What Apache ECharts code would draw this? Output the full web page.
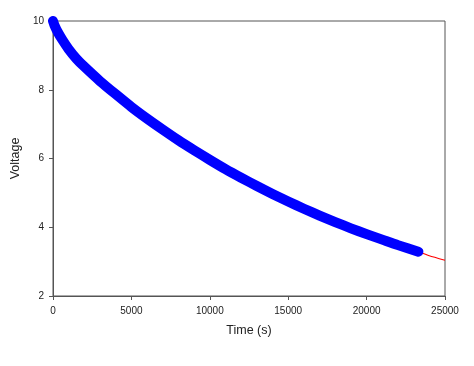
<!DOCTYPE html>
<html>
<head>
<meta charset="utf-8">
<script src="https://cdn.jsdelivr.net/npm/echarts@6/dist/echarts.min.js"></script>
<style>
  html, body { margin: 0; padding: 0; background: #fff; }
  #chart { width: 474px; height: 366px; }
</style>
</head>
<body>
<div id="chart"></div>
<script>
// discharge curve
const timeSec = [0, 100, 300, 600, 1000, 1500, 2000, 3000, 4000, 5000, 6000, 7000, 8000, 9000, 10000,
  11000, 12000, 13000, 14000, 15000, 16000, 17000, 18000, 19000, 20000, 21000, 22000, 23300];
const voltage = [10, 9.87, 9.68, 9.45, 9.18, 8.9, 8.67, 8.25, 7.87, 7.5, 7.16, 6.84, 6.53, 6.24, 5.96,
  5.69, 5.44, 5.2, 4.97, 4.75, 4.54, 4.34, 4.15, 3.97, 3.8, 3.64, 3.48, 3.29];

// red fit line continues past the last measurement
const fitTime = [24000, 25000];
const fitVolt = [3.17, 3.04];

const xTicks = { min: 0, max: 25000, interval: 5000 };
const yTicks = { min: 2, max: 10, interval: 2 };

const chart = echarts.init(document.getElementById('chart'));

const pairs = (xs, ys) => xs.map((x, i) => [x, ys[i]]);
const axisColor = '#555';
const font = 'Liberation Sans, Arial, sans-serif';

chart.setOption({
  animation: false,
  grid: {
    left: 53, right: 29, top: 21, bottom: 70,
    show: true, borderColor: axisColor, borderWidth: 1
  },
  xAxis: {
    type: 'value',
    min: xTicks.min, max: xTicks.max, interval: xTicks.interval,
    name: 'Time (s)', nameLocation: 'middle', nameGap: 28,
    nameTextStyle: { fontFamily: font, fontSize: 12.5, color: '#222' },
    axisLine: { show: true, lineStyle: { color: axisColor } },
    axisTick: { show: true, inside: false, length: 4, lineStyle: { color: axisColor } },
    axisLabel: { fontFamily: font, fontSize: 10, color: '#222', margin: 10, formatter: v => String(v) },
    splitLine: { show: false }
  },
  yAxis: {
    type: 'value',
    min: yTicks.min, max: yTicks.max, interval: yTicks.interval,
    name: 'Voltage', nameLocation: 'middle', nameGap: 27,
    nameTextStyle: { fontFamily: font, fontSize: 12.5, color: '#222' },
    axisLine: { show: true, lineStyle: { color: axisColor } },
    axisTick: { show: true, inside: false, length: 4, lineStyle: { color: axisColor } },
    axisLabel: { fontFamily: font, fontSize: 10, color: '#222', margin: 9 },
    splitLine: { show: false }
  },
  series: [
    {
      name: 'fit',
      type: 'line',
      data: pairs(timeSec.concat(fitTime), voltage.concat(fitVolt)),
      smooth: 0.2,
      showSymbol: false,
      lineStyle: { color: '#ff0000', width: 1.2 },
      z: 2
    },
    {
      name: 'measured',
      type: 'line',
      data: pairs(timeSec, voltage),
      smooth: 0.2,
      showSymbol: false,
      lineStyle: { color: '#0000ff', width: 10, cap: 'round', join: 'round' },
      z: 3
    }
  ]
});
</script>
</body>
</html>
